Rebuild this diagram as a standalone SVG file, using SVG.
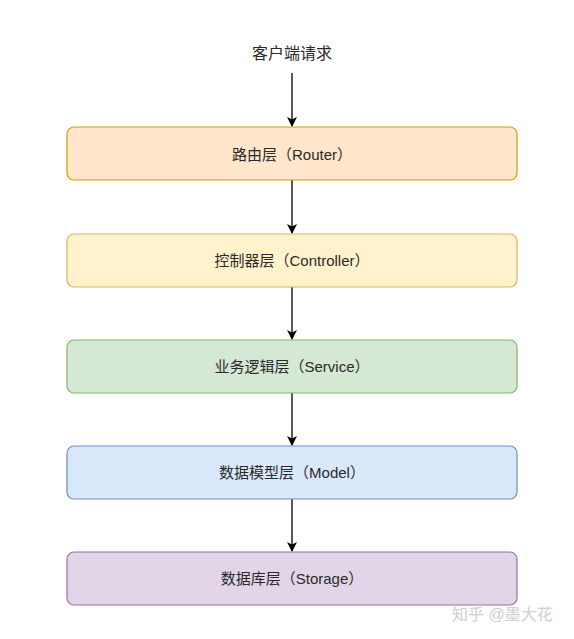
<svg xmlns="http://www.w3.org/2000/svg" width="574" height="639" viewBox="0 0 574 639">
<defs>
<marker id="arr" viewBox="0 0 10 10" refX="9" refY="5" markerWidth="10" markerHeight="10" markerUnits="userSpaceOnUse" orient="auto">
<path d="M0,0 L10,5 L0,10 L2.5,5 Z" fill="#000"/>
</marker>
<style>
text{font-family:"Liberation Sans","Noto Sans CJK SC",sans-serif;font-size:15px;fill:#2a2a2a;text-anchor:middle;dominant-baseline:central}
.box{stroke-width:1.2}
.edge{stroke:#111;stroke-width:1.4;fill:none;marker-end:url(#arr)}
.wm{font-size:16px;fill:#cfcfcf;text-anchor:start}
</style>
</defs>
<rect width="574" height="639" fill="#fff"/>
<g id="client"><text x="292" y="53" style="font-size:16px">客户端请求</text></g>
<g id="connectors">
<line class="edge" x1="292" y1="73" x2="292" y2="126"/>
<line class="edge" x1="292" y1="180" x2="292" y2="233"/>
<line class="edge" x1="292" y1="287" x2="292" y2="339"/>
<line class="edge" x1="292" y1="393" x2="292" y2="445"/>
<line class="edge" x1="292" y1="499" x2="292" y2="551"/>
</g>
<g id="router"><rect class="box" x="67" y="127" width="450" height="53" rx="7" fill="#ffe6cc" stroke="#d79b00"/><text x="292" y="154">路由层（Router）</text></g>
<g id="controller"><rect class="box" x="67" y="234" width="450" height="53" rx="7" fill="#fff2cc" stroke="#d6b656"/><text x="292" y="260">控制器层（Controller）</text></g>
<g id="service"><rect class="box" x="67" y="340" width="450" height="53" rx="7" fill="#d5e8d4" stroke="#82b366"/><text x="292" y="366">业务逻辑层（Service）</text></g>
<g id="model"><rect class="box" x="67" y="446" width="450" height="53" rx="7" fill="#dae8fc" stroke="#6c8ebf"/><text x="292" y="472">数据模型层（Model）</text></g>
<g id="storage"><rect class="box" x="67" y="552" width="450" height="53" rx="7" fill="#e1d5e7" stroke="#9673a6"/><text x="292" y="578">数据库层（Storage）</text></g>
<text class="wm" x="452" y="614">知乎 @墨大花</text>
</svg>
